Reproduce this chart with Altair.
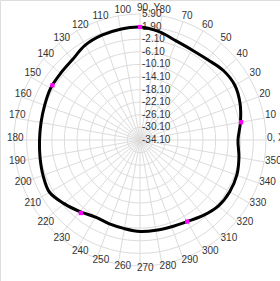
import altair as alt
import pandas as pd

# ---- data ----
angles = list(range(0, 360, 10))
gain_db = [-2.99, -1.72, -0.29, 0.66, 0.34, -0.77, -1.08, -0.61, 0.82,
           1.77, 1.61, 1.30, 0.66, -0.77, -1.18, -1.31, -1.88, -2.20,
           -2.20, -1.88, -1.34, -0.93, -2.67, -4.42, -5.85, -5.75, -5.53,
           -5.05, -4.99, -4.80, -4.20, -2.83, -1.56, -1.21, -1.40, -2.20]
marker_angles = [10, 90, 148, 231, 300]
marker_db = [-1.53, 1.77, -1.31, -4.26, -4.20]
ring_values = [5.9, 1.9, -2.1, -6.1, -10.1, -14.1, -18.1, -22.1, -26.1, -30.1, -34.1]
ring_labels = ["5.90", "1.90", "-2.10", "-6.10", "-10.10", "-14.10", "-18.10",
               "-22.10", "-26.10", "-30.10", "-34.10"]
label_angles = list(range(0, 360, 10))
angle_labels = ["0, X" if a == 0 else ("90, Y" if a == 90 else str(a)) for a in label_angles]

R_MIN, R_MAX = -34.1, 5.9
R_PX = 126.0
W, H = 280, 281
CX, CY = 140.0, 140.0

xs = alt.Scale(domain=[-CX / R_PX, (W - CX) / R_PX], range=[0, W], nice=False, zero=False)
ys = alt.Scale(domain=[-(H - CY) / R_PX, CY / R_PX], range=[H, 0], nice=False, zero=False)

def norm(field):
    return f"(datum.{field} - ({R_MIN})) / ({R_MAX - R_MIN})"

XC = f"{norm('db')} * cos(datum.angle * PI / 180)"
YC = f"{norm('db')} * sin(datum.angle * PI / 180)"

X = lambda f: alt.X(f, type="quantitative", scale=xs, axis=None)
Y = lambda f: alt.Y(f, type="quantitative", scale=ys, axis=None)

grid_color = "#dcdcdc"

# rings
ring_angles = list(range(0, 360, 5))
ring_df = pd.DataFrame([{"ring": i, "db": v, "angle": a}
                        for i, v in enumerate(ring_values[:-1]) for a in ring_angles])
rings = alt.Chart(ring_df).transform_calculate(x=XC, y=YC).mark_line(
    color=grid_color, strokeWidth=1, interpolate="linear-closed"
).encode(x=X("x"), y=Y("y"), detail="ring:N", order="angle:Q")

# spokes
spoke_df = pd.DataFrame({"angle": label_angles, "db": [R_MAX] * len(label_angles)})
spokes = alt.Chart(spoke_df).transform_calculate(
    x=XC, y=YC, x0="0", y0="0"
).mark_rule(color=grid_color, strokeWidth=1).encode(
    x=X("x0"), y=Y("y0"), x2="x:Q", y2="y:Q")

# angle labels
lab_df = pd.DataFrame({"angle": label_angles, "label": angle_labels})
angle_text = alt.Chart(lab_df).transform_calculate(
    x=f"{130.0 / R_PX} * cos(datum.angle * PI / 180)",
    y=f"{130.0 / R_PX} * sin(datum.angle * PI / 180)"
).mark_text(align="left", baseline="middle", dx=-3, dy=-2, fontSize=10,
            font="Liberation Sans", color="#333333").encode(
    x=X("x"), y=Y("y"), text="label:N")

# radial labels
rl_df = pd.DataFrame({"db": ring_values, "label": ring_labels, "angle": [90] * len(ring_values)})
radial_text = alt.Chart(rl_df).transform_calculate(x=XC, y=YC).mark_text(
    align="left", baseline="middle", dx=2, dy=0, fontSize=10,
    font="Liberation Sans", color="#333333").encode(
    x=X("x"), y=Y("y"), text="label:N")

# pattern curve
curve_df = pd.DataFrame({"angle": angles, "db": gain_db})
curve = alt.Chart(curve_df).transform_calculate(x=XC, y=YC).mark_line(
    color="black", strokeWidth=3, interpolate="cardinal-closed"
).encode(x=X("x"), y=Y("y"), order="angle:Q")

# markers
mk_df = pd.DataFrame({"angle": marker_angles, "db": marker_db})
markers = alt.Chart(mk_df).transform_calculate(x=XC, y=YC).mark_square(
    color="#ff00ff", opacity=1, size=18
).encode(x=X("x"), y=Y("y"))

chart = alt.layer(rings, spokes, angle_text, radial_text, curve, markers).properties(
    width=W, height=H, autosize=alt.AutoSizeParams(type="none"), padding=0
).configure_view(stroke=None).configure(background="white")

chart.save("out.html", embed_options={"renderer": "svg", "actions": False})
